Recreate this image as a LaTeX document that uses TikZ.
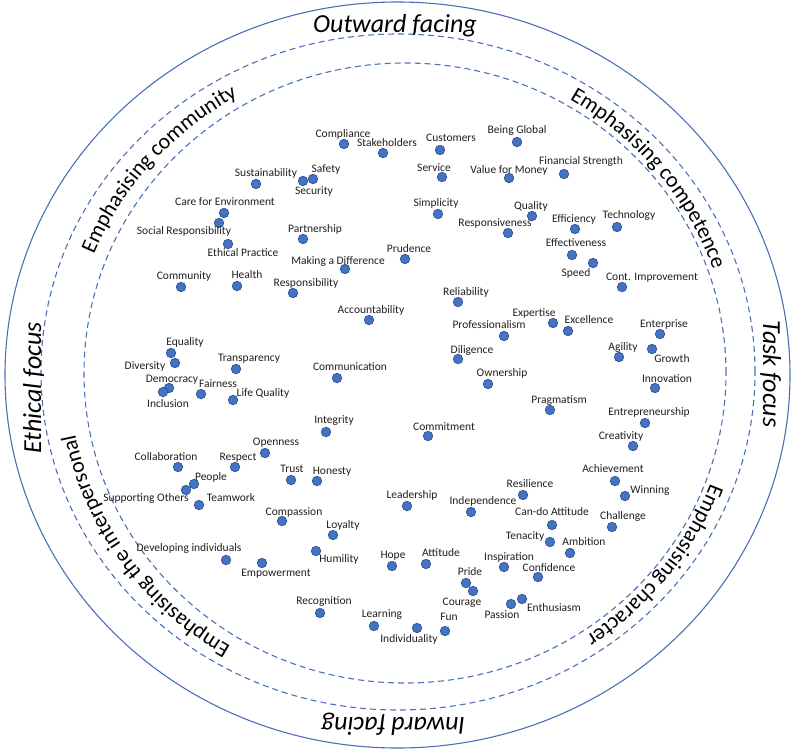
\documentclass[tikz,border=0pt]{standalone}
\usepackage{fontspec}
\setmainfont{Carlito}
\usetikzlibrary{decorations.text}
\definecolor{dotblue}{HTML}{4472C4}
\definecolor{dotedge}{HTML}{2F528F}
\definecolor{ringblue}{HTML}{4A70B8}
\newcommand{\kw}[6]{\node[dot] (d#1) at (#2) {};\node[lbl] (t#1) at (#3) {#6};}
\begin{document}
\begin{tikzpicture}[x=1pt,y=-1pt,
  dot/.style={circle,fill=dotblue,draw=dotedge,line width=0.7pt,minimum size=9.5pt,inner sep=0pt},
  lbl/.style={anchor=base,yshift=-3.8pt,inner sep=0pt,font=\fontsize{11.5}{13}\selectfont,text=black!88},
  ring/.style={draw=ringblue,line width=1.1pt},
  dring/.style={draw=ringblue,line width=1.1pt,dash pattern=on 6pt off 4pt},
  bigital/.style={font=\fontsize{26}{28}\selectfont\itshape,inner sep=0pt,anchor=base},
  arctext/.style={decorate,decoration={text along path,text align=center,text={|\fontsize{22}{22}\selectfont|#1}}}
]
\useasboundingbox (0,0) rectangle (794,750);
% rings
\draw[ring] (397.5,375) ellipse [x radius=392.5pt, y radius=373pt];
\draw[dring] (398,372) ellipse [x radius=357pt, y radius=338pt];
\draw[dring] (405,373) ellipse [x radius=321pt, y radius=310pt];
% outer labels
\node[bigital] (outward) at (395,32) {Outward facing};
\node[bigital,rotate=180] (inward) at (393,717) {Inward facing};
\node[bigital,rotate=90] (ethical) at (41,388) {Ethical focus};
\node[bigital,rotate=-90] (task) at (763,374) {Task focus};
% curved band labels
\path[arctext={Emphasising community}] (401,373) ++(170:331pt and 318pt) arc[start angle=170,end angle=108,x radius=331pt,y radius=318pt];
\path[arctext={Emphasising competence}] (401,373) ++(69:330pt and 318pt) arc[start angle=69,end angle=9,x radius=330pt,y radius=318pt];
\path[arctext={Emphasising character}] (401,373) ++(-8:330pt and 318pt) arc[start angle=-8,end angle=-68,x radius=330pt,y radius=318pt];
\path[arctext={Emphasising the interpersonal}] (401,373) ++(-111:332pt and 319pt) arc[start angle=-111,end angle=-179,x radius=332pt,y radius=319pt];
% values
\kw{1}{344,144}{343,134}{}{}{Compliance}
\kw{2}{383,153}{387,143}{}{}{Stakeholders}
\kw{3}{440,150}{451,138}{}{}{Customers}
\kw{4}{517,142}{517,130}{}{}{Being Global}
\kw{5}{256,184}{266,173}{}{}{Sustainability}
\kw{6}{313,179}{326,169}{}{}{Safety}
\kw{7}{303,181}{314,191}{}{}{Security}
\kw{8}{442,177}{434,168}{}{}{Service}
\kw{9}{509,178}{509,170}{}{}{Value for Money}
\kw{10}{564,174}{581,161}{}{}{Financial Strength}
\kw{11}{224,213}{225,202}{}{}{Care for Environment}
\kw{12}{219,223}{184,231}{}{}{Social Responsibility}
\kw{13}{228,244}{243,253}{}{}{Ethical Practice}
\kw{14}{303,239}{315,229}{}{}{Partnership}
\kw{15}{438,214}{436,203}{}{}{Simplicity}
\kw{16}{532,216}{531,206}{}{}{Quality}
\kw{17}{508,233}{495,223}{}{}{Responsiveness}
\kw{18}{575,229}{574,219}{}{}{Efficiency}
\kw{19}{617,227}{629,215}{}{}{Technology}
\kw{20}{572,255}{576,243}{}{}{Effectiveness}
\kw{21}{593,263}{576,273}{}{}{Speed}
\kw{22}{622,287}{652,277}{}{}{Cont. Improvement}
\kw{23}{345,269}{338,261}{}{}{Making a Difference}
\kw{24}{405,259}{409,249}{}{}{Prudence}
\kw{25}{181,287}{184,276}{}{}{Community}
\kw{26}{237,286}{247,275}{}{}{Health}
\kw{27}{293,293}{306,283}{}{}{Responsibility}
\kw{28}{458,302}{466,292}{}{}{Reliability}
\kw{29}{369,320}{371,310}{}{}{Accountability}
\kw{30}{553,323}{534,313}{}{}{Expertise}
\kw{31}{568,331}{589,320}{}{}{Excellence}
\kw{32}{504,336}{489,325}{}{}{Professionalism}
\kw{33}{660,334}{664,324}{}{}{Enterprise}
\kw{34}{171,353}{185,342}{}{}{Equality}
\kw{35}{175,363}{145,366}{}{}{Diversity}
\kw{36}{236,369}{249,358}{}{}{Transparency}
\kw{37}{337,378}{350,367}{}{}{Communication}
\kw{38}{458,359}{472,350}{}{}{Diligence}
\kw{39}{619,357}{623,347}{}{}{Agility}
\kw{40}{652,349}{672,359}{}{}{Growth}
\kw{41}{169,388}{172,379}{}{}{Democracy}
\kw{42}{163,392}{168,404}{}{}{Inclusion}
\kw{43}{201,394}{218,384}{}{}{Fairness}
\kw{44}{233,400}{263,393}{}{}{Life Quality}
\kw{45}{488,384}{502,373}{}{}{Ownership}
\kw{46}{655,388}{667,379}{}{}{Innovation}
\kw{47}{550,410}{559,400}{}{}{Pragmatism}
\kw{48}{645,423}{649,412}{}{}{Entrepreneurship}
\kw{49}{326,432}{334,420}{}{}{Integrity}
\kw{50}{428,436}{444,427}{}{}{Commitment}
\kw{51}{633,446}{621,436}{}{}{Creativity}
\kw{52}{265,453}{276,442}{}{}{Openness}
\kw{53}{178,467}{166,457}{}{}{Collaboration}
\kw{54}{235,467}{238,457}{}{}{Respect}
\kw{55}{291,480}{292,469}{}{}{Trust}
\kw{56}{317,481}{332,471}{}{}{Honesty}
\kw{57}{194,484}{211,477}{}{}{People}
\kw{58}{186,490}{146,498}{}{}{Supporting Others}
\kw{59}{199,505}{231,498}{}{}{Teamwork}
\kw{60}{615,481}{613,469}{}{}{Achievement}
\kw{61}{625,496}{650,490}{}{}{Winning}
\kw{62}{523,495}{530,484}{}{}{Resilience}
\kw{63}{407,506}{412,495}{}{}{Leadership}
\kw{64}{471,512}{483,501}{}{}{Independence}
\kw{65}{282,521}{294,512}{}{}{Compassion}
\kw{66}{333,535}{343,525}{}{}{Loyalty}
\kw{67}{552,525}{552,512}{}{}{Can-do Attitude}
\kw{68}{612,527}{623,516}{}{}{Challenge}
\kw{69}{550,542}{525,536}{}{}{Tenacity}
\kw{70}{570,553}{584,542}{}{}{Ambition}
\kw{71}{226,560}{189,548}{}{}{Developing individuals}
\kw{72}{262,563}{276,573}{}{}{Empowerment}
\kw{73}{316,551}{339,559}{}{}{Humility}
\kw{74}{392,566}{393,555}{}{}{Hope}
\kw{75}{426,564}{441,553}{}{}{Attitude}
\kw{76}{504,567}{509,557}{}{}{Inspiration}
\kw{77}{538,577}{549,568}{}{}{Confidence}
\kw{78}{466,583}{470,572}{}{}{Pride}
\kw{79}{473,591}{462,602}{}{}{Courage}
\kw{80}{511,604}{502,615}{}{}{Passion}
\kw{81}{522,599}{554,608}{}{}{Enthusiasm}
\kw{82}{320,613}{324,601}{}{}{Recognition}
\kw{83}{374,626}{382,614}{}{}{Learning}
\kw{84}{445,631}{449,617}{}{}{Fun}
\kw{85}{417,628}{409,639}{}{}{Individuality}
\end{tikzpicture}
\end{document}
